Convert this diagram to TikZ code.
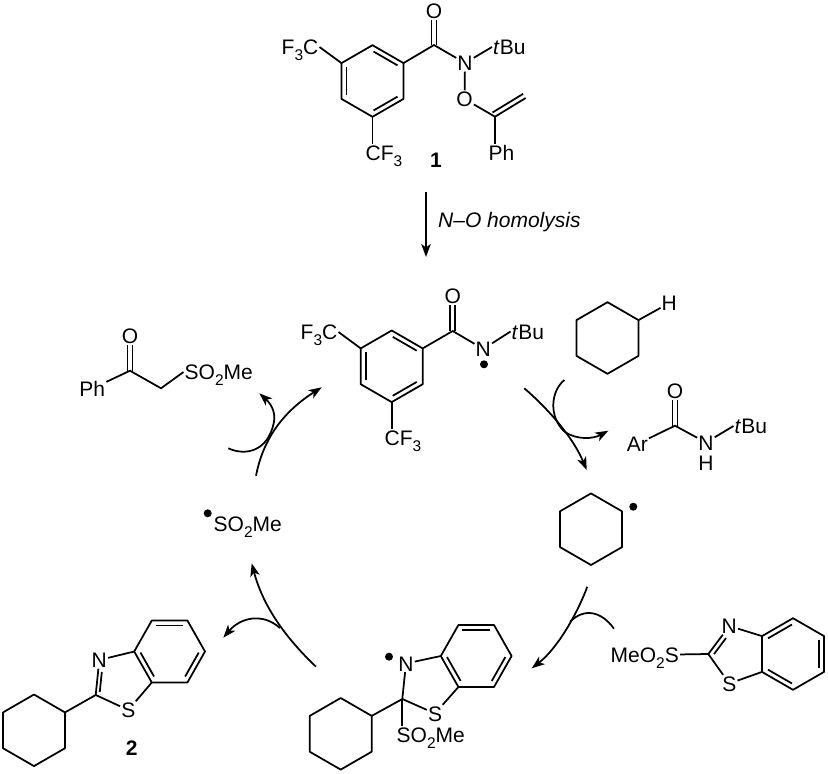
\documentclass[tikz,border=0pt]{standalone}
\usepackage{fontspec}
\setmainfont{Liberation Sans}
\usetikzlibrary{arrows.meta,calc}

% ring with a point on top, corners #1a..#1f clockwise from the top
\newcommand{\upring}[3]{
	\coordinate (#1o) at (#2,#3);
	\coordinate (#1a) at (#2,#3-35.8);
	\coordinate (#1b) at (#2+31,#3-17.9);
	\coordinate (#1c) at (#2+31,#3+17.9);
	\coordinate (#1d) at (#2,#3+35.8);
	\coordinate (#1e) at (#2-31,#3+17.9);
	\coordinate (#1f) at (#2-31,#3-17.9);
}
% ring with a flat top, corners #1a..#1f clockwise from the upper left
\newcommand{\flatring}[3]{
	\coordinate (#1o) at (#2,#3);
	\coordinate (#1a) at (#2-17.8,#3-31);
	\coordinate (#1b) at (#2+17.8,#3-31);
	\coordinate (#1c) at (#2+35.4,#3);
	\coordinate (#1d) at (#2+17.8,#3+31);
	\coordinate (#1e) at (#2-17.8,#3+31);
	\coordinate (#1f) at (#2-35.4,#3);
}
\newcommand{\ringedge}[1]{\draw[bond] (#1a)--(#1b)--(#1c)--(#1d)--(#1e)--(#1f)--cycle;}
\newcommand{\inbond}[3]{\draw[bond,shorten <=1.2pt,shorten >=1.2pt] ($(#1)!.16!(#3)$) -- ($(#2)!.16!(#3)$);}
\newcommand{\lowtwo}{\raisebox{-.28em}{\fontsize{15.5}{15.5}\selectfont 2}}
\newcommand{\lowthree}{\raisebox{-.28em}{\fontsize{15.5}{15.5}\selectfont 3}}

\begin{document}
\begin{tikzpicture}[x=1pt,y=-1pt]
	\tikzset{bond/.style={line width=1.75pt,line join=round}}
	\tikzset{flow/.style={line width=1.75pt,-{Stealth[length=13pt,width=9.5pt,inset=3.5pt]}}}
	\tikzset{atom/.style={inner sep=1pt,text height=15pt,text depth=0pt,font=\fontsize{21}{25}\selectfont}}
	\tikzset{tag/.style={atom,font=\fontsize{21}{25}\selectfont\bfseries}}
	\tikzset{rad/.style={circle,fill=black,inner sep=0pt,minimum size=8pt}}
	\useasboundingbox (0,0) rectangle (828,774);

	% reagent 1
	\upring{p}{372.5}{81}
	\ringedge{p}
	\foreach \u/\v in {a/b,c/d,e/f} {\inbond{p\u}{p\v}{po}}
	\node[atom,anchor=east] (pfc) at (319.5,47) {F\lowthree C};
	\node[atom,anchor=west] (pcf) at (364.5,153) {CF\lowthree};
	\coordinate (pco) at (434,45);
	\node[atom] (pox) at (434,11) {O};
	\node[atom] (pn) at (465,63) {N};
	\node[atom,anchor=west] (pbu) at (492,47) {\emph{t}Bu};
	\node[atom] (poo) at (464.5,99) {O};
	\coordinate (pvi) at (495,116.7);
	\coordinate (pch) at (525.7,98);
	\node[atom] (pph) at (501.5,153) {Ph};
	\node[tag] (one) at (436,160) {1};
	\draw[bond] (pf) -- (pfc.east);
	\draw[bond] (pd) -- (pd |- pcf.north);
	\draw[bond] (pb) -- (pco) -- (pn);
	\draw[bond] ([xshift=-2.5pt]pco) -- ([xshift=-2.5pt]pox.south);
	\draw[bond] ([xshift=2.5pt]pco) -- ([xshift=2.5pt]pox.south);
	\draw[bond] (pn) -- (pbu.west);
	\draw[bond] (pn) -- (poo);
	\draw[bond] (poo) -- (pvi);
	\draw[bond] (pvi) -- (pph.north -| pvi);
	\draw[bond] (pvi) -- (pch);
	\draw[bond] ([shift={(-2.5,-4.2)}]pvi) -- ([shift={(-2.5,-4.2)}]pch);

	% homolysis
	\coordinate (htop) at (426,192);
	\coordinate (hend) at (426,257);
	\draw[flow] (htop) -- (hend);
	\node[atom,anchor=west,font=\fontsize{21}{25}\selectfont\itshape] (hlab) at (437,220) {N--O homolysis};

	% amidyl radical
	\upring{m}{391.7}{366.3}
	\ringedge{m}
	\foreach \u/\v in {a/b,c/d,e/f} {\inbond{m\u}{m\v}{mo}}
	\node[atom,anchor=east] (mfc) at (338.5,332) {F\lowthree C};
	\node[atom,anchor=west] (mcf) at (383.5,438) {CF\lowthree};
	\coordinate (mco) at (452.7,331);
	\node[atom] (mox) at (452.7,296) {O};
	\node[atom] (mn) at (483.3,349) {N};
	\node[atom,anchor=west] (mbu) at (510.5,331.5) {\emph{t}Bu};
	\node[rad] (mdot) at (484,364.3) {};
	\draw[bond] (mf) -- (mfc.east);
	\draw[bond] (md) -- (md |- mcf.north);
	\draw[bond] (mb) -- (mco) -- (mn);
	\draw[bond] ([xshift=-2.5pt]mco) -- ([xshift=-2.5pt]mox.south);
	\draw[bond] ([xshift=2.5pt]mco) -- ([xshift=2.5pt]mox.south);
	\draw[bond] (mn) -- (mbu.west);

	% ketosulfone
	\node[atom] (kox) at (130,336) {O};
	\coordinate (kco) at (130,370.7);
	\node[atom] (kph) at (92.3,388.5) {Ph};
	\coordinate (kch) at (161,388.3);
	\node[atom,anchor=west] (kso) at (183.5,372) {SO\lowtwo Me};
	\draw[bond] (kph) -- (kco) -- (kch) -- (kso.west);
	\draw[bond] ([xshift=-2.5pt]kco) -- ([xshift=-2.5pt]kox.south);
	\draw[bond] ([xshift=2.5pt]kco) -- ([xshift=2.5pt]kox.south);

	% cyclohexane
	\upring{c}{607.5}{338}
	\ringedge{c}
	\node[atom] (ch) at (669.3,303) {H};
	\draw[bond] (cb) -- (ch);

	% amide
	\node[atom] (aox) at (675,391) {O};
	\coordinate (aco) at (675,425.7);
	\node[atom] (aar) at (637.3,444) {Ar};
	\node[atom] (an) at (706,442.5) {N};
	\node[atom] (ah) at (706,463) {H};
	\node[atom,anchor=west] (abu) at (733.5,426) {\emph{t}Bu};
	\draw[bond] (aar) -- (aco) -- (an);
	\draw[bond] (an) -- (abu.west);
	\draw[bond] ([xshift=-2.5pt]aco) -- ([xshift=-2.5pt]aox.south);
	\draw[bond] ([xshift=2.5pt]aco) -- ([xshift=2.5pt]aox.south);

	% cyclohexyl radical
	\upring{r}{591}{529.2}
	\ringedge{r}
	\node[rad] (rdot) at (633.3,506.7) {};

	% sulfone
	\upring{s}{793}{654}
	\ringedge{s}
	\foreach \u/\v in {f/a,b/c,d/e} {\inbond{s\u}{s\v}{so}}
	\node[atom,anchor=east] (sme) at (680,655) {MeO\lowtwo S};
	\coordinate (stc) at (708.3,654);
	\node[atom] (sn) at (729.3,626) {N};
	\node[atom] (ss) at (729.3,683.5) {S};
	\coordinate (scen) at (737,654);
	\draw[bond] (sme) -- (stc) -- (sn) -- (sf);
	\draw[bond] (stc) -- (ss) -- (se);
	\draw[bond,shorten >=8pt] ($(stc)!.2!(scen)$) -- ($(sn)!.2!(scen)$);

	% adduct radical
	\flatring{d}{476.2}{656}
	\ringedge{d}
	\foreach \u/\v in {a/b,c/d,f/e} {\inbond{d\u}{d\v}{do}}
	\node[atom] (dn) at (406,663.5) {N};
	\node[atom] (ds) at (435,713.5) {S};
	\coordinate (dtc) at (402.3,699);
	\node[atom,anchor=west] (dso) at (395.5,735) {SO\lowtwo Me};
	\node[rad] (ddot) at (389,656.7) {};
	\upring{e}{340.7}{733.8}
	\ringedge{e}
	\draw[bond] (eb) -- (dtc) -- (dn) -- (df);
	\draw[bond] (dtc) -- (ds) -- (de);
	\draw[bond] (dtc) -- (dtc |- dso.north);

	% sulfonyl radical
	\node[rad] (vdot) at (207.7,513.3) {};
	\node[atom,anchor=west] (vso) at (212.5,524) {SO\lowtwo Me};

	% product 2
	\flatring{b}{169.6}{651.5}
	\ringedge{b}
	\foreach \u/\v in {a/b,c/d,f/e} {\inbond{b\u}{b\v}{bo}}
	\node[atom] (bn) at (99.3,660) {N};
	\node[atom] (bs) at (128.3,710) {S};
	\coordinate (btc) at (95.7,695);
	\coordinate (bcen) at (116,680);
	\node[tag] (two) at (131.7,747.7) {2};
	\upring{g}{34}{730.3}
	\ringedge{g}
	\draw[bond] (gb) -- (btc) -- (bn) -- (bf);
	\draw[bond] (btc) -- (bs) -- (be);
	\draw[bond,shorten >=8pt] ($(btc)!.2!(bcen)$) -- ($(bn)!.2!(bcen)$);

	% cycle arrows
	\coordinate (ua) at (256,475.7);
	\coordinate (ub) at (321.7,387.3);
	\coordinate (uc) at (228.3,448.3);
	\coordinate (ud) at (274,422);
	\coordinate (ue) at (259.3,393.3);
	\draw[flow] (ua) .. controls (262,445) and (278,415) .. (ub);
	\draw[flow] (uc) .. controls (245,456) and (268,452) .. (ud) .. controls (276,410) and (269,402) .. (ue);

	\coordinate (va) at (524.3,388.3);
	\coordinate (vb) at (586.7,470);
	\coordinate (vc) at (564.3,380);
	\coordinate (vd) at (565,432);
	\coordinate (ve) at (608.3,430.7);
	\draw[flow] (va) .. controls (545,406) and (572,435) .. (vb);
	\draw[flow] (vc) .. controls (550,392) and (549,418) .. (vd) .. controls (577,440) and (593,439) .. (ve);

	\coordinate (wa) at (587.3,586.7);
	\coordinate (wb) at (531.7,668.3);
	\coordinate (wc) at (614,628.7);
	\coordinate (wd) at (570,621.7);
	\draw[flow] (wa) .. controls (578,612) and (558,648) .. (wb);
	\draw[bond] (wc) .. controls (602,612) and (585,607) .. (wd);

	\coordinate (xa) at (316,666.7);
	\coordinate (xb) at (251.7,563.3);
	\coordinate (xc) at (280,628);
	\coordinate (xd) at (223.3,637.7);
	\draw[flow] (xa) .. controls (290,642) and (264,610) .. (xb);
	\draw[flow] (xc) .. controls (262,612) and (240,618) .. (xd);
\end{tikzpicture}
\end{document}
